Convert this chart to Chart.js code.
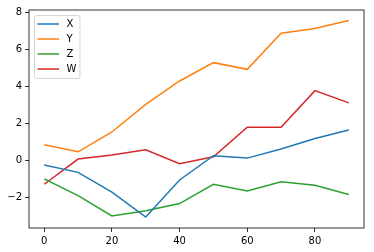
<!DOCTYPE html>
<html>
<head>
<meta charset="utf-8">
<script src="https://cdn.jsdelivr.net/npm/chart.js@4"></script>
<style>
  html, body { margin: 0; padding: 0; background: #fff; }
  #wrap { width: 374px; height: 252px; }
</style>
</head>
<body>
<div id="wrap"><canvas id="myChart" width="374" height="252"></canvas></div>
<script>
let xs = [0, 10, 20, 30, 40, 50, 60, 70, 80, 90];
let seriesX = [-0.23, -0.63, -1.70, -3.04, -1.04, 0.27, 0.14, 0.63, 1.20, 1.66];
let seriesY = [0.86, 0.48, 1.55, 3.04, 4.30, 5.29, 4.93, 6.88, 7.13, 7.56];
let seriesZ = [-0.98, -1.88, -2.98, -2.70, -2.31, -1.27, -1.63, -1.14, -1.32, -1.82];
let seriesW = [-1.27, 0.09, 0.31, 0.59, -0.16, 0.21, 1.81, 1.80, 3.78, 3.12];
let names = ['X', 'Y', 'Z', 'W'];
let colors = ['#1f77b4', '#ff7f0e', '#2ca02c', '#d62728'];

function pts(arr){
    return arr.map((v, i) => ({x: xs[i], y: v}));
}

// рамка вокруг области графика (как spines в matplotlib)
let boxPlugin = {
    id: 'box',
    afterDraw(chart){
        let c = chart.ctx, a = chart.chartArea;
        c.save();
        c.strokeStyle = '#000';
        c.lineWidth = 0.8;
        c.strokeRect(a.left, a.top, a.right - a.left, a.bottom - a.top);
        c.restore();
    }
};

// легенда внутри графика, слева сверху
let legendPlugin = {
    id: 'innerLegend',
    afterDraw(chart){
        let c = chart.ctx;
        c.save();
        let bx = 34.5, by = 15.5, bw = 45.5, bh = 63;
        c.fillStyle = 'rgba(255,255,255,0.8)';
        c.strokeStyle = 'rgba(204,204,204,0.8)';
        c.lineWidth = 1;
        c.beginPath();
        c.roundRect(bx, by, bw, bh, 2);
        c.fill();
        c.stroke();
        c.font = '10px "DejaVu Sans"';
        c.textBaseline = 'middle';
        c.fillStyle = '#000';
        chart.data.datasets.forEach((ds, i) => {
            let y = 24 + i * 15;
            c.strokeStyle = ds.borderColor;
            c.lineWidth = 1.5;
            c.beginPath();
            c.moveTo(37.5, y);
            c.lineTo(59, y);
            c.stroke();
            c.fillText(ds.label, 66.5, y + 0.5);
        });
        c.restore();
    }
};

let allSeries = [seriesX, seriesY, seriesZ, seriesW];
let ctx = document.getElementById('myChart').getContext('2d');
let chart = new Chart(ctx, {
    type: 'line',
    data: {
        datasets: allSeries.map((s, i) => ({
            label: names[i],
            data: pts(s),
            borderColor: colors[i],
            backgroundColor: 'transparent',
            borderWidth: 1.5,
            pointRadius: 0,
            tension: 0
        }))
    },
    options: {
        responsive: false,
        animation: false,
        layout: { padding: { top: 10, right: 10, left: 0, bottom: 0 } },
        plugins: { legend: { display: false }, tooltip: { enabled: false } },
        scales: {
            x: {
                type: 'linear',
                min: -4.5,
                max: 94.5,
                border: { display: false },
                grid: { drawOnChartArea: false, drawTicks: true, tickLength: 4, tickColor: '#000', tickWidth: 0.8 },
                ticks: {
                    stepSize: 20,
                    includeBounds: false,
                    padding: 3,
                    color: '#000',
                    maxRotation: 0,
                    font: { family: 'DejaVu Sans', size: 10 },
                    callback: v => String(v).replace('-', '\u2212')
                },
                afterFit(s){ s.height = 24; }
            },
            y: {
                min: -3.63,
                max: 8.13,
                border: { display: false },
                grid: { drawOnChartArea: false, drawTicks: true, tickLength: 4, tickColor: '#000', tickWidth: 0.8 },
                ticks: {
                    stepSize: 2,
                    includeBounds: false,
                    padding: 3,
                    color: '#000',
                    font: { family: 'DejaVu Sans', size: 10 },
                    callback: v => String(v).replace('-', '\u2212')
                },
                afterFit(s){ s.width = 29; }
            }
        }
    },
    plugins: [boxPlugin, legendPlugin]
});
</script>
</body>
</html>
